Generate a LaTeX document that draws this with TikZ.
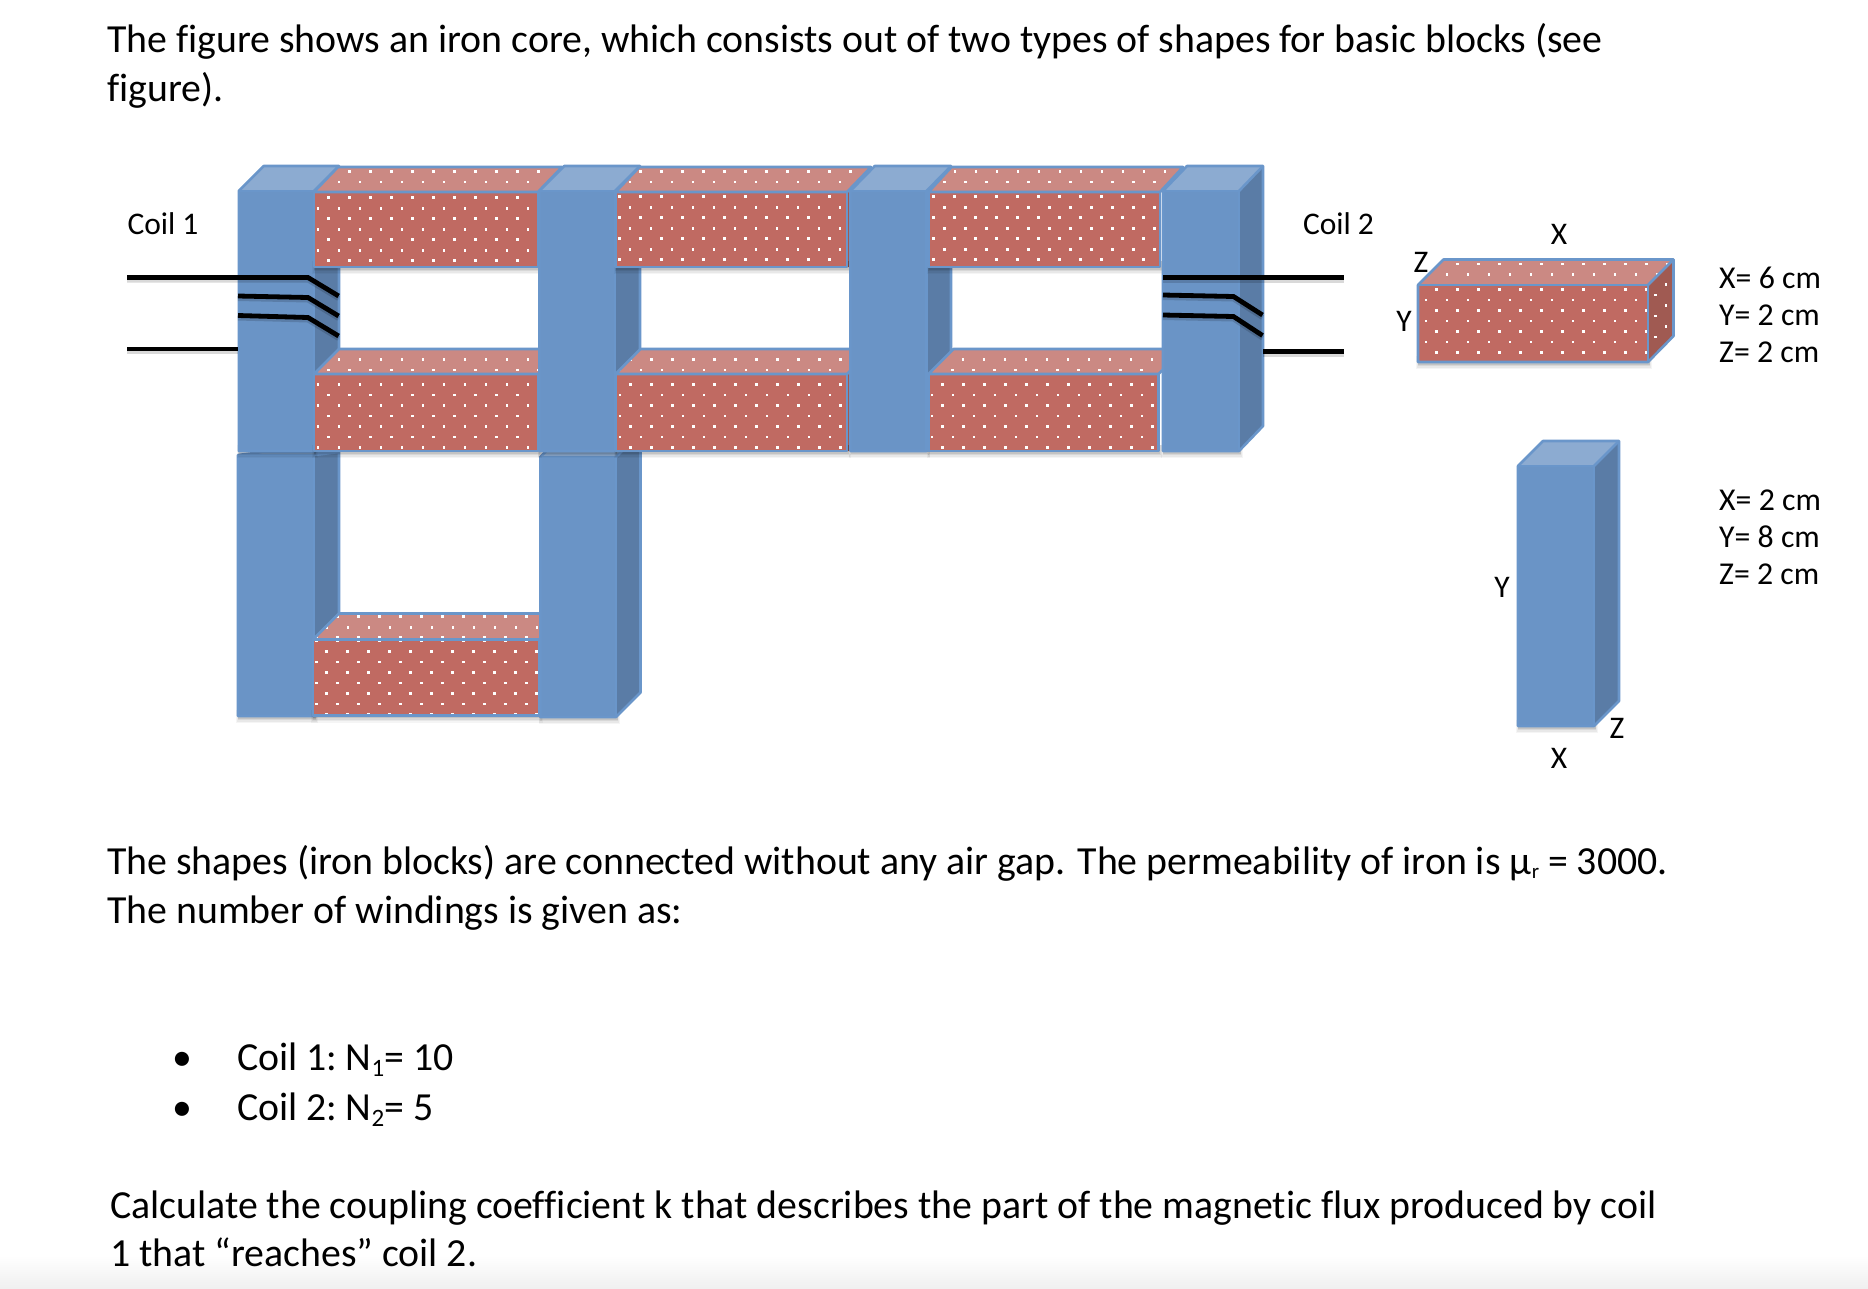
\documentclass[tikz,border=0pt]{standalone}
\usepackage{fontspec}
\setmainfont[Ligatures=NoCommon]{Carlito}
\definecolor{bfront}{HTML}{6A94C6}
\definecolor{btop}{HTML}{8CABD1}
\definecolor{bside}{HTML}{5A7CA6}
\definecolor{bedge}{HTML}{6A96CA}
\definecolor{rfront}{HTML}{C06A62}
\definecolor{rtop}{HTML}{CB8983}
\definecolor{rside}{HTML}{A05A52}
\newcommand{\smallsub}[1]{\raisebox{-0.17em}{\fontsize{25}{25}\selectfont #1}}
\newcommand{\softshadow}[4]{%
  \foreach \s/\o in {8/0.04,6/0.05,4/0.07,2/0.09}{%
    \fill[black,opacity=\o] ({#1+1-\s/3},{#3}) rectangle ({#2+1+\s/3},{#4+1+\s/1.3});
  }%
}
% dots: x0,x1,y0,y1,xphase,yphase
\newcommand{\dotsin}[6]{%
  \begin{scope}
    \clip (#1,#3) rectangle (#2,#4);
    \pgfmathtruncatemacro{\nr}{((#4)-(#3))/10.5+1}
    \pgfmathtruncatemacro{\nc}{((#2)-(#1))/21+2}
    \foreach \r in {0,...,\nr}{
      \foreach \c in {0,...,\nc}{
        \pgfmathsetmacro{\dx}{#1+#5+\c*21-mod(\r,2)*10.5}
        \pgfmathsetmacro{\dy}{#3+#6+\r*10.5}
        \fill[white] (\dx-1.3,\dy-1.3) rectangle (\dx+1.3,\dy+1.3);
      }
    }
  \end{scope}}
% box: left,right,top,bottom,dx,dy
\newcommand{\bluebox}[6]{%
  \softshadow{#1}{#2}{#4-6}{#4}
  \fill[bside] (#2,#3) -- ({#2+#5},{#3-#6}) -- ({#2+#5},{#4-#6}) -- (#2,#4) -- cycle;
  \fill[btop] (#1,#3) -- ({#1+#5},{#3-#6}) -- ({#2+#5},{#3-#6}) -- (#2,#3) -- cycle;
  \fill[bfront] (#1,#3) rectangle (#2,#4);
  \draw[edgeline] (#1,#3) -- ({#1+#5},{#3-#6}) -- ({#2+#5},{#3-#6}) -- ({#2+#5},{#4-#6}) -- (#2,#4) -- (#1,#4) -- cycle;
  \draw[edgeline] (#1,#3) -- (#2,#3) -- (#2,#4);
  \draw[edgeline] (#2,#3) -- ({#2+#5},{#3-#6});
}
% red bar: left,right,top,bottom,dx,dy, front x/y dot phase, top x dot phase (top y phase in \typh)
\newcommand{\typh}{4.3}
\newcommand{\redbar}[9]{%
  \softshadow{#1}{#2}{#4-6}{#4}
  \fill[rtop] (#1,#3) -- ({#1+#5},{#3-#6}) -- ({#2+#5},{#3-#6}) -- (#2,#3) -- cycle;
  \begin{scope}
    \clip (#1,#3) -- ({#1+#5},{#3-#6}) -- ({#2+#5},{#3-#6}) -- (#2,#3) -- cycle;
    \dotsin{#1}{#2+#5}{#3-#6}{#3}{#9}{\typh}
  \end{scope}
  \fill[rfront] (#1,#3) rectangle (#2,#4);
  \dotsin{#1}{#2}{#3}{#4}{#7}{#8}
  \draw[edgeline] (#1,#3) -- ({#1+#5},{#3-#6}) -- ({#2+#5},{#3-#6}) -- (#2,#3) -- cycle;
  \draw[edgeline] (#1,#3) rectangle (#2,#4);
}
\tikzset{
  edgeline/.style={draw=bedge,line width=2.6pt,line join=round},
  wire/.style={draw=black,line width=4.8pt,preaction={draw=black,opacity=0.15,line width=5pt,transform canvas={yshift=-2.5pt}}},
  bodytext/.style={anchor=base west,inner sep=0pt,font=\fontsize{39.8}{46}\selectfont},
  smalltext/.style={anchor=base,inner sep=0pt,font=\fontsize{31.5}{36}\selectfont},
  dimtext/.style={anchor=base west,inner sep=0pt,font=\fontsize{31.8}{36}\selectfont},
}
\begin{document}
\begin{tikzpicture}[x=1pt,y=-1pt]
\useasboundingbox (0,0) rectangle (1868,1288);
\fill[white] (0,0) rectangle (1868,1288);
% bottom fade strip
\shade[top color=white,bottom color=black!6] (0,1255) rectangle (1868,1288);
% lower row
\bluebox{238}{314}{455}{716}{25}{3}
\renewcommand{\typh}{3.2}
\redbar{313}{539}{639.5}{715.5}{26}{26}{3.2}{1.3}{3.3}
\bluebox{540.3}{616}{457}{717}{24.5}{24.5}
% upper row
\bluebox{238.8}{314}{191}{451}{25}{25}
\renewcommand{\typh}{4.3}
\redbar{314}{538}{192}{267}{24}{25}{14.6}{5.7}{14.6}
\renewcommand{\typh}{0}
\redbar{314}{538}{374}{451}{25}{25}{14.6}{0}{14.6}
\bluebox{539.3}{615}{191}{451}{25}{25}
\fill[rside] (847,192) rectangle (850.5,267) (847,374) rectangle (850.5,451);
\renewcommand{\typh}{4.3}
\redbar{615.5}{847}{192}{267}{24}{25}{3.8}{4.7}{3.8}
\renewcommand{\typh}{0}
\redbar{615.5}{847}{374}{451}{25}{25}{4.3}{0}{4.3}
\bluebox{850.3}{926.5}{191}{451}{24.5}{25}
\renewcommand{\typh}{4.3}
\redbar{928.5}{1160}{192}{267}{23}{25}{5.2}{4.7}{5.5}
\renewcommand{\typh}{0}
\redbar{928.5}{1158.5}{374}{451}{25}{25}{3.5}{0}{3}
\bluebox{1163}{1239}{191}{451}{24}{25}
% right hand blocks
\softshadow{1418}{1648}{356}{362}
\fill[rside] (1648,285) -- (1673.5,259.5) -- (1673.5,336) -- (1648,362) -- cycle;
\begin{scope}
\clip (1648,285) -- (1673.5,259.5) -- (1673.5,336) -- (1648,362) -- cycle;
\dotsin{1650}{1673}{262}{350}{15.8}{1.5}
\end{scope}
\fill[rtop] (1418,285) -- (1443.5,259.5) -- (1673.5,259.5) -- (1648,285) -- cycle;
\begin{scope}
\clip (1418,285) -- (1443.5,259.5) -- (1673.5,259.5) -- (1648,285) -- cycle;
\dotsin{1418}{1673}{259.5}{285}{18.3}{4.5}
\end{scope}
\fill[rfront] (1418,285) rectangle (1648,362);
\dotsin{1418}{1648}{285}{362}{18.3}{4.3}
\draw[edgeline] (1418,285) -- (1443.5,259.5) -- (1673.5,259.5) -- (1673.5,336) -- (1648,362) -- (1418,362) -- cycle;
\draw[edgeline] (1418,285) -- (1648,285) -- (1648,362);
\draw[edgeline] (1648,285) -- (1673.5,259.5);
\bluebox{1518}{1594}{466}{726}{25}{25}
% coil 1 wires
\coordinate (c1a) at (127,277.5); \coordinate (c1b) at (308,277.5); \coordinate (c1c) at (338.6,296);
\coordinate (c1d) at (238,296); \coordinate (c1e) at (308,297.5); \coordinate (c1f) at (338.6,316);
\coordinate (c1g) at (238,315.5); \coordinate (c1h) at (308,317.5); \coordinate (c1i) at (338.6,336);
\coordinate (c1j) at (127,349); \coordinate (c1k) at (237.5,349);
\draw[wire] (c1a) -- (c1b) -- (c1c);
\draw[wire] (c1d) -- (c1e) -- (c1f);
\draw[wire] (c1g) -- (c1h) -- (c1i);
\draw[wire] (c1j) -- (c1k);
% coil 2 wires
\coordinate (c2a) at (1163,277.5); \coordinate (c2b) at (1344,277.5);
\coordinate (c2c) at (1163,295); \coordinate (c2d) at (1233.5,296.5); \coordinate (c2e) at (1262.5,315);
\coordinate (c2f) at (1163,315); \coordinate (c2g) at (1233.5,316.5); \coordinate (c2h) at (1262.5,335.5);
\coordinate (c2i) at (1263,351.5); \coordinate (c2j) at (1344,351.5);
\draw[wire] (c2a) -- (c2b);
\draw[wire] (c2c) -- (c2d) -- (c2e);
\draw[wire] (c2f) -- (c2g) -- (c2h);
\draw[wire] (c2i) -- (c2j);
% labels
\node[smalltext] (coilone) at (163,234) {Coil 1};
\node[smalltext] (coiltwo) at (1338.5,234) {Coil 2};
\node[smalltext] (xa) at (1559,244) {X};
\node[smalltext] (za) at (1421,272) {Z};
\node[smalltext] (ya) at (1404,331) {Y};
\node[smalltext] (yb) at (1502,597) {Y};
\node[smalltext] (zb) at (1617,738) {Z};
\node[smalltext] (xb) at (1559,768) {X};
\node[dimtext] (d1) at (1719,288) {X= 6 cm};
\node[dimtext] (d2) at (1719,325) {Y= 2 cm};
\node[dimtext] (d3) at (1719,362) {Z= 2 cm};
\node[dimtext] (d4) at (1719,510) {X= 2 cm};
\node[dimtext] (d5) at (1719,547) {Y= 8 cm};
\node[dimtext] (d6) at (1719,584) {Z= 2 cm};
% body text
\node[bodytext] (t1) at (107,52) {The figure shows an iron core, which consists out of two types of shapes for basic blocks (see};
\node[bodytext] (t2) at (107,101) {figure).};
\node[bodytext] (t3) at (107,874) {The shapes (iron blocks) are connected without any air gap. The permeability of iron is µ\raisebox{-0.12em}{\fontsize{21}{21}\selectfont r} = 3000.};
\node[bodytext] (t4) at (107,923) {The number of windings is given as:};
\node[bodytext] (b1) at (172.5,1070) {\textbullet};
\node[bodytext] (b2) at (172.5,1120) {\textbullet};
\node[bodytext] (t5) at (237,1070) {Coil 1:\hspace{-3.5pt} N\smallsub{1}= 10};
\node[bodytext] (t6) at (237,1120) {Coil 2:\hspace{-3.5pt} N\smallsub{2}= 5};
\node[bodytext] (t7) at (110,1218) {Calculate the coupling coefficient k that describes the part of the magnetic flux produced by coil};
\node[bodytext] (t8) at (110,1266) {1 that “reaches” coil 2.};
\end{tikzpicture}
\end{document}
